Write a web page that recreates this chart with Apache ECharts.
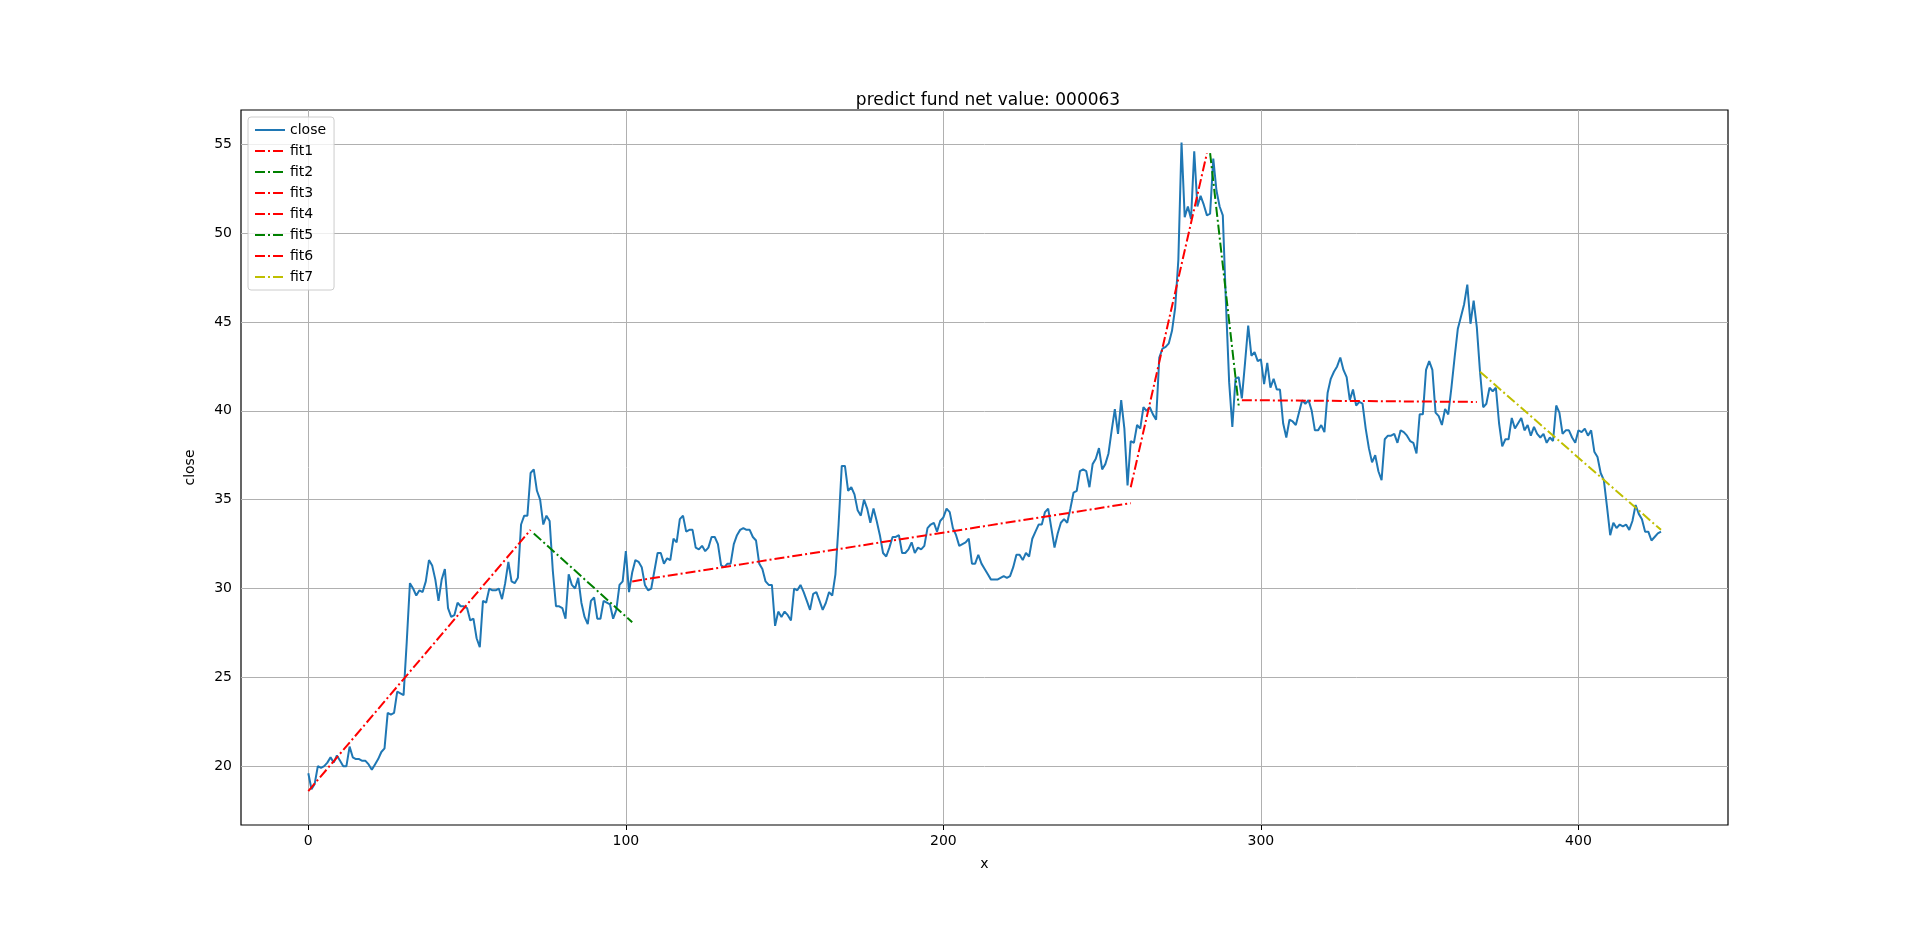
<!DOCTYPE html>
<html lang="en">
<head>
<meta charset="UTF-8">
<title>predict fund net value</title>
<script src="https://cdn.jsdelivr.net/npm/echarts@6/dist/echarts.min.js"></script>
<style>html,body{margin:0;padding:0;background:#fff;}</style>
</head>
<body>
<div id="chart" style="width:1920px;height:927px;"></div>
<script>
// close values, index = x
var close = [
  19.6,18.7,19.0,20.0,19.9,20.0,20.2,20.5,20.2,20.6,
  20.3,20.0,20.0,21.1,20.5,20.4,20.4,20.3,20.3,20.1,
  19.8,20.1,20.4,20.8,21.0,23.0,22.9,23.0,24.2,24.1,
  24.0,27.0,30.3,30.0,29.6,29.9,29.8,30.4,31.6,31.3,
  30.5,29.3,30.5,31.1,28.9,28.4,28.5,29.2,29.0,29.0,
  28.9,28.2,28.3,27.2,26.7,29.3,29.2,30.0,29.9,29.9,
  30.0,29.4,30.3,31.5,30.4,30.3,30.6,33.6,34.1,34.1,
  36.5,36.7,35.5,35.0,33.6,34.1,33.8,31.0,29.0,29.0,
  28.9,28.3,30.8,30.2,30.0,30.6,29.2,28.4,28.0,29.3,
  29.5,28.3,28.3,29.3,29.2,29.1,28.3,28.8,30.2,30.4,
  32.1,29.8,30.9,31.6,31.5,31.2,30.2,29.9,30.0,31.0,
  32.0,32.0,31.4,31.7,31.6,32.8,32.6,33.9,34.1,33.2,
  33.3,33.3,32.3,32.2,32.4,32.1,32.3,32.9,32.9,32.5,
  31.3,31.2,31.4,31.4,32.5,33.0,33.3,33.4,33.3,33.3,
  32.9,32.7,31.4,31.1,30.4,30.2,30.2,27.9,28.7,28.4,
  28.7,28.5,28.2,30.0,29.9,30.2,29.8,29.3,28.8,29.7,
  29.8,29.3,28.8,29.2,29.8,29.6,30.8,33.6,36.9,36.9,
  35.5,35.7,35.3,34.4,34.1,35.0,34.5,33.7,34.5,33.8,
  33.0,32.0,31.8,32.3,32.9,32.9,33.0,32.0,32.0,32.2,
  32.6,32.0,32.3,32.2,32.4,33.4,33.6,33.7,33.2,33.8,
  34.0,34.5,34.3,33.4,33.0,32.4,32.5,32.6,32.8,31.4,
  31.4,31.9,31.4,31.1,30.8,30.5,30.5,30.5,30.6,30.7,
  30.6,30.7,31.2,31.9,31.9,31.6,32.0,31.8,32.8,33.2,
  33.6,33.6,34.3,34.5,33.4,32.3,33.1,33.7,33.9,33.7,
  34.5,35.4,35.5,36.6,36.7,36.6,35.7,37.0,37.3,37.9,
  36.7,37.0,37.6,38.9,40.1,38.7,40.6,39.0,35.8,38.3,
  38.2,39.2,39.0,40.2,40.0,40.2,39.8,39.5,43.0,43.5,
  43.6,43.8,44.5,45.8,48.5,55.1,50.9,51.5,50.8,54.6,
  51.5,52.1,51.6,51.0,51.1,54.2,52.4,51.5,51.0,46.0,
  41.6,39.1,41.8,41.9,40.7,42.7,44.8,43.1,43.3,42.8,
  42.9,41.5,42.7,41.3,41.8,41.2,41.2,39.3,38.5,39.5,
  39.4,39.2,39.9,40.6,40.4,40.6,40.0,38.9,38.9,39.2,
  38.8,41.0,41.8,42.2,42.5,43.0,42.3,41.9,40.6,41.2,
  40.3,40.5,40.4,39.0,37.9,37.1,37.5,36.6,36.1,38.4,
  38.6,38.6,38.7,38.2,38.9,38.8,38.6,38.3,38.2,37.6,
  39.8,39.8,42.3,42.8,42.3,39.9,39.7,39.2,40.1,39.8,
  41.3,43.0,44.6,45.3,46.0,47.1,44.9,46.2,44.7,42.2,
  40.2,40.4,41.3,41.1,41.3,39.3,38.0,38.4,38.4,39.6,
  39.0,39.3,39.6,38.9,39.2,38.6,39.1,38.7,38.5,38.7,
  38.2,38.5,38.3,40.3,39.9,38.7,38.9,38.9,38.5,38.2,
  38.9,38.8,39.0,38.6,38.9,37.7,37.4,36.5,36.1,34.6,
  33.0,33.7,33.4,33.6,33.5,33.6,33.3,33.8,34.7,34.2,
  33.9,33.2,33.2,32.7,32.9,33.1,33.2
];

// fitted segments: [x0, y0, x1, y1]
var fitNames = ['fit1', 'fit2', 'fit3', 'fit4', 'fit5', 'fit6', 'fit7'];
var fitColors = ['#ff0000', '#008000', '#ff0000', '#ff0000', '#008000', '#ff0000', '#bfbf00'];
var fitSegments = [
  [0, 18.6, 70, 33.3],
  [71, 33.1, 102, 28.1],
  [102, 30.4, 259, 34.8],
  [259, 35.7, 283, 54.5],
  [284, 54.5, 293, 40.3],
  [294, 40.6, 368, 40.5],
  [369, 42.2, 426, 33.3]
];

var xTicks = [0, 100, 200, 300, 400];
var yTicks = [20, 25, 30, 35, 40, 45, 50, 55];

var myChart = echarts.init(document.getElementById('chart'));
var font = 'DejaVu Sans';
var gridStyle = { color: '#b0b0b0', width: 1, type: 'solid' };

var series = [{
  name: 'close',
  type: 'line',
  data: close.map(function (v, i) { return [i, v]; }),
  symbol: 'none',
  lineStyle: { color: '#1f77b4', width: 2 },
  itemStyle: { color: '#1f77b4' },
  z: 3,
  markLine: {
    silent: true, symbol: 'none', label: { show: false },
    lineStyle: gridStyle, z: 1,
    data: xTicks.map(function (t) { return { xAxis: t }; })
      .concat(yTicks.map(function (t) { return { yAxis: t }; }))
  }
}];
fitSegments.forEach(function (s, k) {
  series.push({
    name: fitNames[k],
    type: 'line',
    data: [[s[0], s[1]], [s[2], s[3]]],
    symbol: 'none',
    lineStyle: { color: fitColors[k], width: 2, type: [10, 3, 2, 3] },
    itemStyle: { color: fitColors[k] },
    z: 4
  });
});

var option = {
  animation: false,
  title: {
    text: 'predict fund net value: 000063',
    left: 983, top: 87, textAlign: 'center',
    textStyle: { fontFamily: font, fontWeight: 'normal', fontSize: 17, color: '#000' }
  },
  legend: {
    orient: 'vertical', left: 248, top: 117,
    itemWidth: 30, itemHeight: 10, itemGap: 7,
    padding: [6, 8, 6, 6],
    borderColor: '#cccccc', borderWidth: 1, borderRadius: 3,
    backgroundColor: 'rgba(255,255,255,0.8)',
    itemStyle: { opacity: 0 },
    textStyle: { fontFamily: font, fontSize: 14, color: '#000' },
    data: ['close'].concat(fitNames)
  },
  grid: { left: 241, right: 192, top: 110, bottom: 102, show: true, borderColor: '#000', borderWidth: 1.2 },
  xAxis: {
    type: 'value', min: -21.2, max: 447.1,
    name: 'x', nameLocation: 'middle', nameGap: 32,
    nameTextStyle: { fontFamily: font, fontSize: 14, color: '#000' },
    axisLine: { show: false },
    axisTick: { show: true, customValues: xTicks, length: 5, lineStyle: { color: '#000' } },
    axisLabel: { customValues: xTicks, fontFamily: font, fontSize: 14, color: '#000', margin: 9 },
    splitLine: { show: false }
  },
  yAxis: {
    type: 'value', min: 16.69, max: 56.93,
    name: 'close', nameLocation: 'middle', nameGap: 44,
    nameTextStyle: { fontFamily: font, fontSize: 14, color: '#000' },
    axisLine: { show: false },
    axisTick: { show: true, customValues: yTicks, length: 5, lineStyle: { color: '#000' } },
    axisLabel: { customValues: yTicks, fontFamily: font, fontSize: 14, color: '#000', margin: 9 },
    splitLine: { show: false }
  },
  series: series
};
myChart.setOption(option);
</script>
</body>
</html>
